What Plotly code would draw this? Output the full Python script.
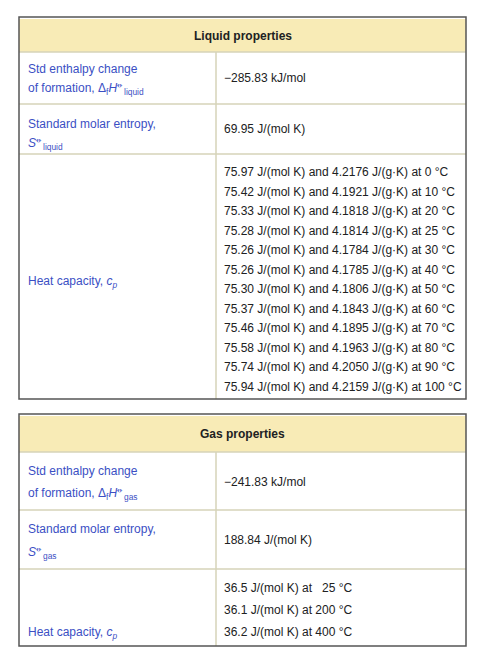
import plotly.graph_objects as go

# ---- data ----
liquid_title = "Liquid properties"
gas_title = "Gas properties"

liquid_labels = [
    ["Std enthalpy change", "of formation, Δ<sub>f</sub><i>H</i><sup>⦵</sup><sub>liquid</sub>"],
    ["Standard molar entropy,", "<i>S</i><sup>⦵</sup><sub>liquid</sub>"],
    ["Heat capacity, <i>c<sub>p</sub></i>"],
]
liquid_values = [
    ["−285.83 kJ/mol"],
    ["69.95 J/(mol K)"],
    [
        "75.97 J/(mol K) and 4.2176 J/(g·K) at 0 °C",
        "75.42 J/(mol K) and 4.1921 J/(g·K) at 10 °C",
        "75.33 J/(mol K) and 4.1818 J/(g·K) at 20 °C",
        "75.28 J/(mol K) and 4.1814 J/(g·K) at 25 °C",
        "75.26 J/(mol K) and 4.1784 J/(g·K) at 30 °C",
        "75.26 J/(mol K) and 4.1785 J/(g·K) at 40 °C",
        "75.30 J/(mol K) and 4.1806 J/(g·K) at 50 °C",
        "75.37 J/(mol K) and 4.1843 J/(g·K) at 60 °C",
        "75.46 J/(mol K) and 4.1895 J/(g·K) at 70 °C",
        "75.58 J/(mol K) and 4.1963 J/(g·K) at 80 °C",
        "75.74 J/(mol K) and 4.2050 J/(g·K) at 90 °C",
        "75.94 J/(mol K) and 4.2159 J/(g·K) at 100 °C",
    ],
]

gas_labels = [
    ["Std enthalpy change", "of formation, Δ<sub>f</sub><i>H</i><sup>⦵</sup><sub>gas</sub>"],
    ["Standard molar entropy,", "<i>S</i><sup>⦵</sup><sub>gas</sub>"],
    ["Heat capacity, <i>c<sub>p</sub></i>"],
]
gas_values = [
    ["−241.83 kJ/mol"],
    ["188.84 J/(mol K)"],
    ["36.5 J/(mol K) at   25 °C", "36.1 J/(mol K) at 200 °C", "36.2 J/(mol K) at 400 °C"],
]

# ---- layout geometry (pixel space of the 480x668 page) ----
X0, XMID, X1 = 19, 216, 466
tables = [
    dict(title=liquid_title, labels=liquid_labels, values=liquid_values,
         top=19, header=52, rows=[104, 154, 399], label_y=[[69, 88], [124, 143], [282]],
         val_y=[[78], [129], [172 + 19.5 * i for i in range(12)]]),
    dict(title=gas_title, labels=gas_labels, values=gas_values,
         top=416, header=452, rows=[510, 569, 646], label_y=[[471, 493], [529, 552], [633]],
         val_y=[[482], [540], [588, 610, 632]]),
]

BLUE = "#3b4fc4"
TEXT = "#202122"
GRID = "#d6d3b8"
FONT = "Liberation Sans, Arial, sans-serif"
PAGE_OFFSET = 8  # default body margin of the html page

fig = go.Figure()
shapes = []
annotations = []

for t in tables:
    top, header, rows = t["top"], t["header"], t["rows"]
    bottom = rows[-1]
    shapes.append(dict(type="rect", x0=X0, x1=X1, y0=top, y1=header,
                       fillcolor="#f8ebb6", line=dict(width=0), layer="below"))
    for y in [header] + rows[:-1]:
        shapes.append(dict(type="line", x0=X0, x1=X1, y0=y, y1=y, line=dict(color=GRID, width=1.5)))
    shapes.append(dict(type="line", x0=XMID, x1=XMID, y0=header, y1=bottom, line=dict(color=GRID, width=1.5)))
    shapes.append(dict(type="rect", x0=X0, x1=X1, y0=top - 2, y1=bottom,
                       line=dict(color="#555555", width=1.5)))
    annotations.append(dict(x=(X0 + X1) / 2, y=(top + header) / 2, text="<b>" + t["title"] + "</b>",
                            showarrow=False, font=dict(size=12, color=TEXT, family=FONT)))
    for lines, ys in zip(t["labels"], t["label_y"]):
        for txt, y in zip(lines, ys):
            annotations.append(dict(x=26, y=y, text=txt, xanchor="left", showarrow=False,
                                    font=dict(size=12, color=BLUE, family=FONT)))
    for lines, ys in zip(t["values"], t["val_y"]):
        for txt, y in zip(lines, ys):
            annotations.append(dict(x=222, y=y, text=txt, xanchor="left", showarrow=False,
                                    font=dict(size=12, color=TEXT, family=FONT)))

fig.update_layout(
    width=480 - PAGE_OFFSET, height=668 - PAGE_OFFSET,
    margin=dict(l=0, r=0, t=0, b=0),
    paper_bgcolor="white", plot_bgcolor="white",
    xaxis=dict(range=[PAGE_OFFSET, 480], visible=False, fixedrange=True),
    yaxis=dict(range=[668, PAGE_OFFSET], visible=False, fixedrange=True),
    shapes=shapes, annotations=annotations, showlegend=False,
)

fig.write_html("out.html")
